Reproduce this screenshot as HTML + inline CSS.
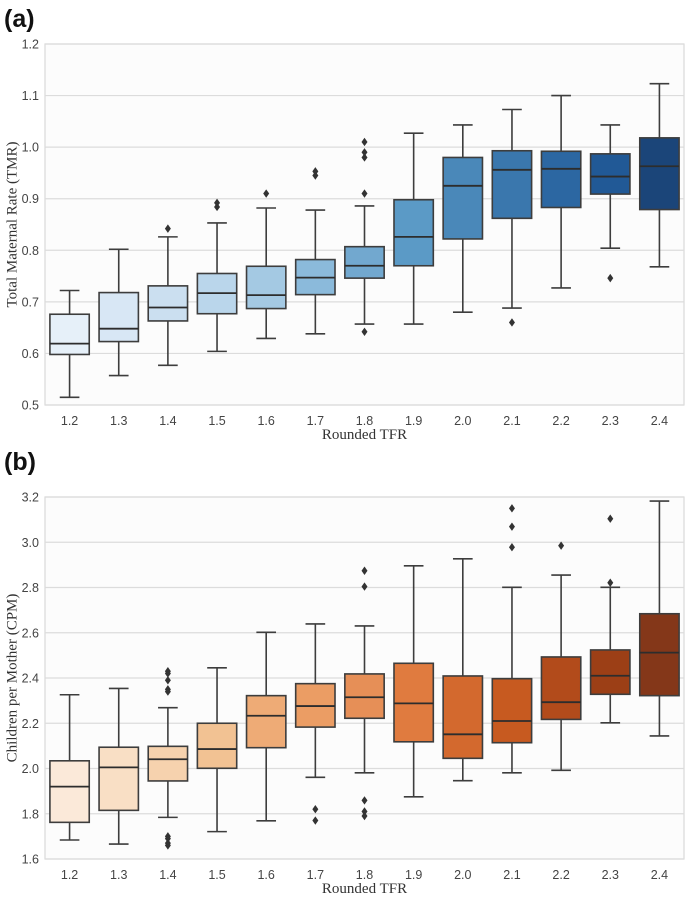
<!DOCTYPE html>
<html><head><meta charset="utf-8"><style>
html,body{margin:0;padding:0;background:#fff;}
svg{display:block;}
text{font-family:"Liberation Sans",Arial,sans-serif;}
</style></head><body>
<svg id="c" width="685" height="898" viewBox="0 0 685 898"></svg>
<script>
const categories=["1.2","1.3","1.4","1.5","1.6","1.7","1.8","1.9","2.0","2.1","2.2","2.3","2.4"];
const tmrLow=[.515,.557,.577,.604,.629,.638,.657,.657,.680,.688,.727,.804,.768];
const tmrQ1=[.598,.623,.663,.677,.687,.714,.746,.770,.822,.862,.883,.909,.879];
const tmrMed=[.619,.648,.689,.717,.713,.747,.770,.826,.925,.956,.958,.943,.963];
const tmrQ3=[.676,.718,.731,.755,.769,.782,.807,.898,.980,.993,.992,.987,1.018];
const tmrHigh=[.722,.802,.826,.853,.882,.878,.886,1.027,1.043,1.073,1.100,1.043,1.123];
const tmrOut=[[],[],[.842],[.884,.892],[.910],[.945,.953],[.642,.910,.980,.990,1.01],[],[],[.660],[],[.746],[]];
const tmrTicks=[0.5,0.6,0.7,0.8,0.9,1.0,1.1,1.2];
const cpmLow=[1.684,1.666,1.784,1.721,1.769,1.961,1.981,1.875,1.946,1.981,1.992,2.202,2.144];
const cpmQ1=[1.762,1.815,1.945,2.001,2.092,2.183,2.222,2.118,2.045,2.114,2.217,2.328,2.322];
const cpmMed=[1.920,2.005,2.041,2.086,2.233,2.276,2.315,2.288,2.151,2.210,2.293,2.410,2.512];
const cpmQ3=[2.034,2.094,2.098,2.200,2.322,2.375,2.418,2.465,2.409,2.397,2.493,2.524,2.684];
const cpmHigh=[2.326,2.354,2.269,2.445,2.602,2.639,2.630,2.896,2.927,2.801,2.855,2.801,3.182];
const cpmOut=[[],[],[2.43,2.42,2.39,2.35,2.34,1.70,1.69,1.67,1.66],[],[],[1.82,1.77],[2.874,2.804,1.859,1.81,1.79],[],[],[3.150,3.069,2.978],[2.985],[3.104,2.821],[]];
const cpmTicks=[1.6,1.8,2.0,2.2,2.4,2.6,2.8,3.0,3.2];
const blues=["#e6f0f9","#d8e7f5","#cbdff0","#bad6eb","#a4c9e3","#8bbadb","#72a8cf","#5b9ac6","#4a88b9","#3a77ad","#2c67a2","#215996","#1b4579"];
const oranges=["#fbe9d9","#f9dfc5","#f6d2ae","#f2c293","#eeab76","#eb9d64","#e68f57","#e07b3f","#d3692e","#c75a20","#b24b1b","#9c3f16","#843719"];
const NS="http://www.w3.org/2000/svg";
const svg=document.getElementById('c');
function mk(tag,attrs,parent){const e=document.createElementNS(NS,tag);for(const k in attrs)e.setAttribute(k,attrs[k]);(parent||svg).appendChild(e);return e;}
const X0=45,X1=684;
function xC(i){return X0+(i+0.5)*(X1-X0)/categories.length;}
function panel(o){
  const g=mk('g',{});
  
  
  const y=v=>o.yB-(v-o.vmin)/(o.vmax-o.vmin)*(o.yB-o.yT);
  const bg=mk('rect',{x:X0,y:o.yT,width:X1-X0,height:o.yB-o.yT,fill:'#fcfcfc',stroke:'#d9d9d9','stroke-width':1.2},g);
  
  o.ticks.forEach(t=>{
    const l=mk('line',{x1:X0,x2:X1,y1:y(t),y2:y(t),stroke:'#dcdcdc','stroke-width':1.2},g);
    
    const tx=mk('text',{x:X0-6,y:y(t)+4.5,'text-anchor':'end','font-size':12.5,fill:'#444'},g);
    tx.textContent=t.toFixed(1);
    
  });
  const bw=0.8*(X1-X0)/categories.length;
  categories.forEach((c,i)=>{
    const cx=xC(i);
    const bx=mk('g',{},g);
    
    mk('line',{x1:cx,x2:cx,y1:y(o.hi[i]),y2:y(o.q3[i]),stroke:'#3d3d3d','stroke-width':1.6},bx);
    mk('line',{x1:cx,x2:cx,y1:y(o.q1[i]),y2:y(o.lo[i]),stroke:'#3d3d3d','stroke-width':1.6},bx);
    mk('line',{x1:cx-bw/4,x2:cx+bw/4,y1:y(o.hi[i]),y2:y(o.hi[i]),stroke:'#3d3d3d','stroke-width':1.6},bx);
    mk('line',{x1:cx-bw/4,x2:cx+bw/4,y1:y(o.lo[i]),y2:y(o.lo[i]),stroke:'#3d3d3d','stroke-width':1.6},bx);
    mk('rect',{x:cx-bw/2,y:y(o.q3[i]),width:bw,height:y(o.q1[i])-y(o.q3[i]),fill:o.colors[i],stroke:'#3d3d3d','stroke-width':1.6},bx);
    mk('line',{x1:cx-bw/2,x2:cx+bw/2,y1:y(o.med[i]),y2:y(o.med[i]),stroke:'#2d2d2d','stroke-width':1.8},bx);
    o.out[i].forEach(v=>{
      const yy=y(v);
      const d=mk('path',{d:`M${cx} ${yy-4.2}L${cx+3} ${yy}L${cx} ${yy+4.2}L${cx-3} ${yy}Z`,fill:'#333'},bx);
      
    });
    const tl=mk('text',{x:cx,y:o.yB+20,'text-anchor':'middle','font-size':12.5,fill:'#444'},g);
    tl.textContent=c;
    
  });
  const xt=mk('text',{x:(X0+X1)/2,y:o.yB+34,'text-anchor':'middle',fill:'#333',style:'font-family:"Liberation Serif",serif;font-size:15px'},g);
  xt.textContent='Rounded TFR';
  
  const yc=(o.yT+o.yB)/2;
  const yt=mk('text',{x:11,y:yc,'text-anchor':'middle',fill:'#333',style:'font-family:"Liberation Serif",serif;font-size:15px',transform:`rotate(-90 11 ${yc})`},g);
  yt.setAttribute('dy','0.35em');
  yt.textContent=o.ytitle;
  
  const pl=mk('text',{x:4,y:o.labelY,'font-size':25,'font-weight':'bold',fill:'#111'},g);
  pl.textContent=o.label;
  
}
panel({name:'panel-a-tmr',yT:44,yB:405,vmin:0.5,vmax:1.2,ticks:tmrTicks,lo:tmrLow,q1:tmrQ1,med:tmrMed,q3:tmrQ3,hi:tmrHigh,out:tmrOut,colors:blues,ytitle:'Total Maternal Rate (TMR)',label:'(a)',labelY:27});
panel({name:'panel-b-cpm',yT:497,yB:859,vmin:1.6,vmax:3.2,ticks:cpmTicks,lo:cpmLow,q1:cpmQ1,med:cpmMed,q3:cpmQ3,hi:cpmHigh,out:cpmOut,colors:oranges,ytitle:'Children per Mother (CPM)',label:'(b)',labelY:470});
</script>
</body></html>
